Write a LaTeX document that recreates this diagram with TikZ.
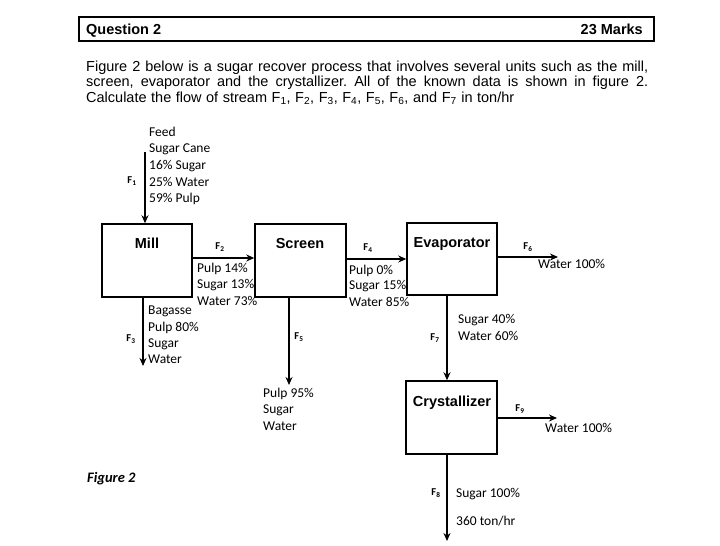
\documentclass[tikz,border=0pt]{standalone}
\usepackage{fontspec}
\setmainfont{Liberation Sans}
\newfontfamily\calib{Carlito}
\usetikzlibrary{arrows.meta}
\frenchspacing
\tikzset{
  unit/.style={draw, line width=1.5pt, inner sep=0pt},
  utitle/.style={font=\bfseries\fontsize{14.5}{17}\selectfont, inner sep=0pt, anchor=base},
  lbl/.style={font=\calib\fontsize{13.5}{16}\selectfont, inner sep=0pt, anchor=base west},
  flab/.style={font=\calib\bfseries\fontsize{10.5}{12}\selectfont, inner sep=0pt, anchor=center},
  flow/.style={line width=1.3pt, -{Stealth[length=8pt,width=7pt]}},
  para/.style={font=\fontsize{14.5}{16}\selectfont, inner sep=0pt, anchor=base west}
}
\begin{document}
\begin{tikzpicture}[x=1pt,y=-1pt]
\useasboundingbox (0,0) rectangle (720,546);
% header
\node[draw, line width=1.1pt, minimum width=575pt, minimum height=24pt, inner sep=0pt] (hdr) at (366.5,29) {};
\node[font=\bfseries\fontsize{14.5}{17}\selectfont, inner sep=0pt, anchor=base west] (q) at (86,34) {Question 2};
\node[font=\bfseries\fontsize{14.5}{17}\selectfont, inner sep=0pt, anchor=base east] (marks) at (643,34) {23 Marks};
\node[para] (p1) at (86,71.5) {\makebox[562pt][s]{Figure 2 below is a sugar recover process that involves several units such as the mill,}};
\node[para] (p2) at (86,86.8) {\makebox[562pt][s]{screen, evaporator and the crystallizer. All of the known data is shown in figure 2.}};
\node[para] (p3) at (86,102.1) {\makebox[428pt][s]{Calculate the flow of stream F\textsubscript{1}, F\textsubscript{2}, F\textsubscript{3}, F\textsubscript{4}, F\textsubscript{5}, F\textsubscript{6}, and F\textsubscript{7} in ton/hr}};
% units
\node[unit, minimum width=90pt, minimum height=73pt] (mill) at (147,260.5) {};
\node[unit, minimum width=91pt, minimum height=73pt] (screen) at (300.5,260.5) {};
\node[unit, minimum width=90pt, minimum height=72pt] (evap) at (452,259) {};
\node[unit, minimum width=91pt, minimum height=73pt] (cryst) at (451.5,417.5) {};
\node[utitle] (tmill) at (147,248) {Mill};
\node[utitle] (tscreen) at (300,248) {Screen};
\node[utitle] (tevap) at (452,247) {Evaporator};
\node[utitle] (tcryst) at (452,406) {Crystallizer};
% coordinates
\coordinate (f1s) at (145,152);
\coordinate (f2r) at (0,258);
\coordinate (f3e) at (143,366);
\coordinate (f4r) at (0,259);
\coordinate (f5e) at (289,385);
\coordinate (f6e) at (558,257);
\coordinate (f7x) at (447,0);
\coordinate (f9e) at (557,418);
\coordinate (f8e) at (447,541);
% flows
\draw[flow] (f1s) -- (f1s |- mill.north);
\draw[flow] (mill.east |- f2r) -- (screen.west |- f2r);
\draw[flow] (f3e |- mill.south) -- (f3e);
\draw[flow] (screen.east |- f4r) -- (evap.west |- f4r);
\draw[flow] (f5e |- screen.south) -- (f5e);
\draw[flow] (evap.east |- f6e) -- (f6e);
\draw[flow] (f7x |- evap.south) -- (f7x |- cryst.north);
\draw[flow] (cryst.east |- f9e) -- (f9e);
\draw[flow] (f8e |- cryst.south) -- (f8e);
% flow labels
\node[flab] (l1) at (132,181) {F\textsubscript{1}};
\node[flab] (l2) at (220,247) {F\textsubscript{2}};
\node[flab] (l3) at (131,339) {F\textsubscript{3}};
\node[flab] (l4) at (368,248) {F\textsubscript{4}};
\node[flab] (l5) at (299,337) {F\textsubscript{5}};
\node[flab] (l6) at (528,247) {F\textsubscript{6}};
\node[flab] (l7) at (435,338) {F\textsubscript{7}};
\node[flab] (l8) at (436,493) {F\textsubscript{8}};
\node[flab] (l9) at (520,409) {F\textsubscript{9}};
% stream texts
\node[lbl] (a1) at (149,136) {Feed};
\node[lbl] (a2) at (149,152.5) {Sugar Cane};
\node[lbl] (a3) at (149,169.5) {16\% Sugar};
\node[lbl] (a4) at (149,186) {25\% Water};
\node[lbl] (a5) at (149,202.5) {59\% Pulp};
\node[lbl] (b1) at (197,272.5) {Pulp 14\%};
\node[lbl] (b2) at (197,288.5) {Sugar 13\%};
\node[lbl] (b3) at (197,305.5) {Water 73\%};
\node[lbl] (c1) at (148,314.5) {Bagasse};
\node[lbl] (c2) at (148,331.5) {Pulp 80\%};
\node[lbl] (c3) at (148,347.5) {Sugar};
\node[lbl] (c4) at (148,363.5) {Water};
\node[lbl] (d1) at (349,274.5) {Pulp 0\%};
\node[lbl] (d2) at (349,289.5) {Sugar 15\%};
\node[lbl] (d3) at (349,306.5) {Water 85\%};
\node[lbl] (e1) at (538,268.5) {Water 100\%};
\node[lbl] (g1) at (458,323.5) {Sugar 40\%};
\node[lbl] (g2) at (458,340.5) {Water 60\%};
\node[lbl] (h1) at (263,397.5) {Pulp 95\%};
\node[lbl] (h2) at (263,413.5) {Sugar};
\node[lbl] (h3) at (263,430.5) {Water};
\node[lbl] (i1) at (545,432.5) {Water 100\%};
\node[lbl] (j1) at (456,497.5) {Sugar 100\%};
\node[lbl] (j2) at (456,525.5) {360 ton/hr};
\node[font=\calib\bfseries\itshape\fontsize{14.5}{17}\selectfont, inner sep=0pt, anchor=base west] (fig) at (87,482.7) {Figure 2};
\end{tikzpicture}
\end{document}
